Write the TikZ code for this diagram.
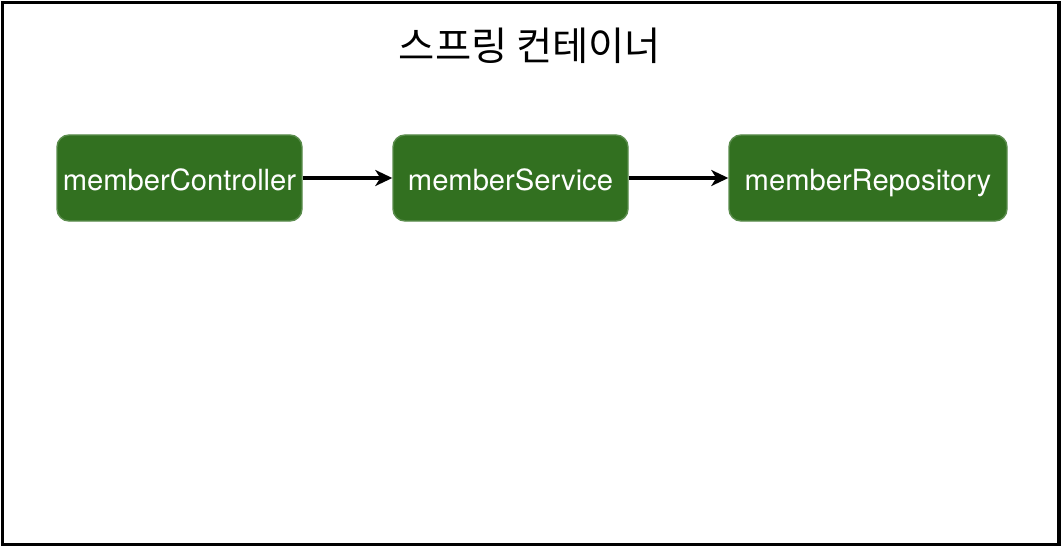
\documentclass[tikz,border=0pt]{standalone}
\usepackage{fontspec}
\setmainfont{TeX Gyre Heros}
\newfontfamily\krfont{Noto Sans CJK KR}
\usepackage{tikz}
\usetikzlibrary{arrows.meta}
\definecolor{beangreen}{RGB}{50,112,32}
\tikzset{
  bean/.style={rectangle,rounded corners=0.12cm,fill=beangreen,draw=beangreen!80!white,
    text=white,font=\fontsize{8.3}{10}\selectfont,minimum height=0.86cm,inner sep=0pt,
    text height=0.82em,text depth=0.1em},
  dep/.style={-{Stealth[length=0.17cm,width=0.16cm,inset=0.05cm]},line width=1.1pt,black}
}

\begin{document}
\begin{tikzpicture}
                      \useasboundingbox (0,0) rectangle (10.62,5.48);
                      \draw[line width=1.1pt] (0.025,0.035) rectangle (10.59,5.455);
                      \node (title) at (5.30,5.02) {\krfont\fontsize{11.2}{13}\selectfont 스프링 컨테이너};
                      \node[bean,minimum width=2.45cm](ctrl)at(1.795,3.70){memberController};
                      \node[bean,minimum width=2.35cm](svc)at(5.105,3.70){memberService};
                      \node[bean,minimum width=2.78cm](repo)at(8.68,3.70){memberRepository};
                      \draw[dep](ctrl)--(svc);
                      \draw[dep](svc)--(repo);
                  \end{tikzpicture}
\end{document}
